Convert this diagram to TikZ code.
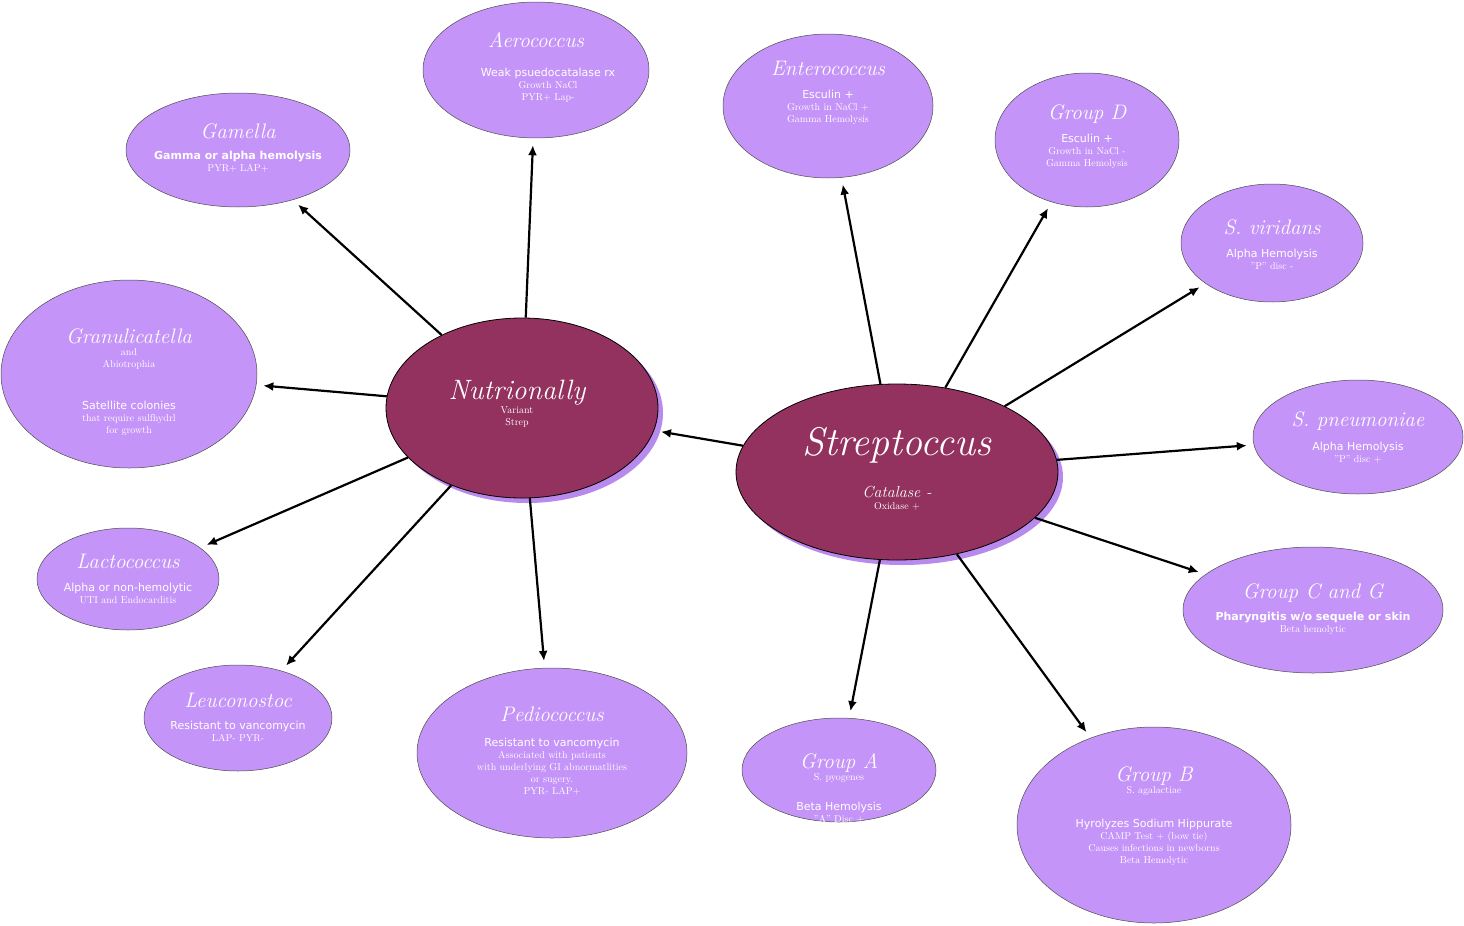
\documentclass[tikz,border=0pt]{standalone}
\usepackage{fontspec}
\newfontfamily\bodyf{DejaVu Sans}
\usetikzlibrary{shapes.geometric,arrows.meta}
\definecolor{lite}{HTML}{C594F8}
\definecolor{dark}{HTML}{93325F}
\definecolor{shad}{HTML}{B98AEE}
\newcommand{\BD}{\bodyf\fontsize{11}{14.5}\selectfont}
\newcommand{\BB}{\bodyf\bfseries\fontsize{11}{14.5}\selectfont}
\newcommand{\TT}{\itshape\fontsize{21}{27}\selectfont}
\tikzset{
 leaf/.style={ellipse,draw=black!70,line width=0.5pt,fill=lite},
 lbl/.style={text=white,align=center,inner sep=0pt},
 hub/.style={ellipse,draw=black,line width=0.8pt,fill=dark},
 arr/.style={-{Latex[length=10pt,width=9pt]},line width=2.2pt,shorten >=7pt},
}
\begin{document}
\begin{tikzpicture}[x=1pt,y=-1pt]
\useasboundingbox (0,0) rectangle (1464,926);
\node[leaf,minimum width=226pt,minimum height=136pt] (aero) at (536,70) {};
\node[lbl] (aerot) at (536,40) {\TT Aerococcus};
\node[lbl] (aerob) at (548,85) {\BD Weak psuedocatalase rx\\Growth NaCl\\PYR+ Lap-};
\node[leaf,minimum width=224pt,minimum height=114pt] (gam) at (238,150) {};
\node[lbl] (gamt) at (238,131) {\TT Gamella};
\node[lbl] (gamb) at (238,162) {\BB Gamma or alpha hemolysis\\PYR+ LAP+};
\node[leaf,minimum width=210pt,minimum height=144pt] (ent) at (828,106) {};
\node[lbl] (entt) at (828,68) {\TT Enterococcus};
\node[lbl] (entb) at (828,107) {\BD Esculin +\\Growth in NaCl +\\Gamma Hemolysis};
\node[leaf,minimum width=184pt,minimum height=134pt] (gd) at (1087,140) {};
\node[lbl] (gdt) at (1087,114) {\TT Group D};
\node[lbl] (gdb) at (1087,151) {\BD Esculin +\\Growth in NaCl -\\Gamma Hemolysis};
\node[leaf,minimum width=182pt,minimum height=118pt] (vir) at (1272,243) {};
\node[lbl] (virt) at (1272,227) {\TT S. viridans};
\node[lbl] (virb) at (1272,259) {\BD Alpha Hemolysis\\"P" disc -};
\node[leaf,minimum width=210pt,minimum height=114pt] (pneu) at (1358,437) {};
\node[lbl] (pneut) at (1358,421) {\TT S. pneumoniae};
\node[lbl] (pneub) at (1358,453) {\BD Alpha Hemolysis\\"P" disc +};
\node[leaf,minimum width=260pt,minimum height=126pt] (gcg) at (1313,610) {};
\node[lbl] (gcgt) at (1313,593) {\TT Group C and G};
\node[lbl] (gcgb) at (1313,623) {\BB Pharyngitis w/o sequele or skin\\Beta hemolytic};
\node[leaf,minimum width=274pt,minimum height=196pt] (gb) at (1154,825) {};
\node[lbl] (gbt) at (1154,781) {\TT Group B\\S. agalactiae};
\node[lbl] (gbb) at (1154,842) {\BD Hyrolyzes Sodium Hippurate\\CAMP Test + (bow tie)\\Causes infections in newborns\\Beta Hemolytic};
\node[leaf,minimum width=194pt,minimum height=104pt] (ga) at (839,770) {};
\node[lbl] (gat) at (839,768) {\TT Group A\\S. pyogenes};
\node[lbl] (gab) at (839,813) {\BD Beta Hemolysis\\"A" Disc +};
\node[leaf,minimum width=270pt,minimum height=170pt] (ped) at (552,753) {};
\node[lbl] (pedt) at (552,714) {\TT Pediococcus};
\node[lbl] (pedb) at (552,767) {\BD Resistant to vancomycin\\Associated with patients\\with underlying GI abnormatlities\\or sugery.\\PYR- LAP+};
\node[leaf,minimum width=188pt,minimum height=106pt] (leu) at (238,718) {};
\node[lbl] (leut) at (238,700) {\TT Leuconostoc};
\node[lbl] (leub) at (238,731) {\BD Resistant to vancomycin\\LAP- PYR-};
\node[leaf,minimum width=182pt,minimum height=102pt] (lac) at (128,579) {};
\node[lbl] (lact) at (128,561) {\TT Lactococcus};
\node[lbl] (lacb) at (128,593) {\BD Alpha or non-hemolytic\\UTI and Endocarditis};
\node[leaf,minimum width=256pt,minimum height=188pt] (gran) at (129,374) {};
\node[lbl] (grant) at (129,349) {\TT Granulicatella\\and\\Abiotrophia};
\node[lbl] (granb) at (129,418) {\BD Satellite colonies\\that require sulfhydrl\\for growth};
\fill[shad] (527,413) ellipse [x radius=136pt, y radius=90pt];
\node[hub,minimum width=272pt,minimum height=180pt] (nvs) at (522,408) {};
\node[lbl] (nvst) at (517,404) {\itshape\fontsize{28}{40}\selectfont Nutrionally\\Variant\\Strep};
\fill[shad] (902,477) ellipse [x radius=161pt, y radius=88pt];
\node[hub,minimum width=322pt,minimum height=176pt] (str) at (897,472) {};
\node[lbl] (strt) at (897,445) {\itshape\fontsize{40}{44}\selectfont Streptoccus};
\node[lbl] (strb) at (897,498) {\itshape\fontsize{16}{22}\selectfont Catalase -\\Oxidase +};
\foreach \t in {aero,gam,gran,lac,leu,ped} \draw[arr] (nvs) -- (\t);
\foreach \t in {ent,gd,vir,pneu,gcg,gb,ga,nvs} \draw[arr] (str) -- (\t);
\end{tikzpicture}
\end{document}
